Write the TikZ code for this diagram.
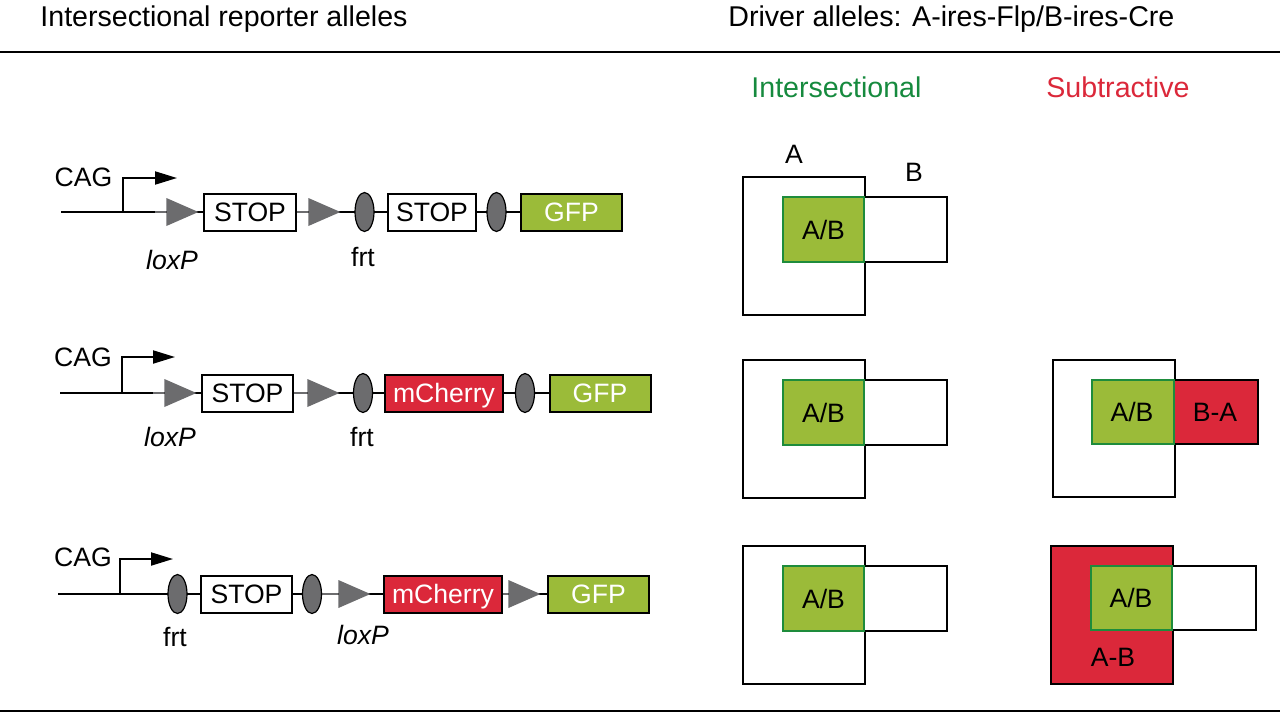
\documentclass[tikz,border=0pt]{standalone}
\usepackage{fontspec}
\setmainfont{Liberation Sans}
\usetikzlibrary{shapes.geometric,arrows.meta,backgrounds,calc}

\definecolor{gfpgreen}{RGB}{155,187,57}
\definecolor{abedge}{RGB}{30,140,60}
\definecolor{cherryred}{RGB}{219,40,58}
\definecolor{headgreen}{RGB}{22,138,62}
\definecolor{sitegray}{RGB}{108,108,110}

\tikzset{
  head/.style={font=\fontsize{14.3}{17}\selectfont, anchor=base west, inner sep=0pt},
  lbl/.style={font=\fontsize{13.3}{15}\selectfont, inner sep=0pt},
  gene/.style={draw, line width=1pt, minimum height=18.5pt, inner sep=0pt,
    text height=9.6pt, text depth=0pt, font=\fontsize{13.3}{15}\selectfont},
  stopbox/.style={gene, fill=white},
  gfpbox/.style={gene, fill=gfpgreen, text=white, minimum width=50.5pt},
  cherrybox/.style={gene, fill=cherryred, text=white, minimum width=59pt},
  loxsite/.style={isosceles triangle, isosceles triangle stretches, fill=sitegray,
    minimum width=14pt, minimum height=16pt, inner sep=0pt, anchor=west},
  frtsite/.style={ellipse, draw, fill=sitegray, line width=0.6pt,
    minimum width=9.5pt, minimum height=19.5pt, inner sep=0pt},
  backbone/.style={line width=0.75pt},
  siteline/.style={line width=0.75pt, sitegray},
  promoter/.style={line width=1pt, -{Triangle[length=11pt,width=6.5pt]}},
  venn/.style={draw, fill=white, line width=0.9pt},
  overlap/.style={draw=abedge, fill=gfpgreen, line width=0.9pt},
  vlbl/.style={lbl, text height=9.6pt, text depth=0pt},
}

\begin{document}
\begin{tikzpicture}[x=0.5pt, y=-0.5pt]
  \useasboundingbox (0,0) rectangle (1280,713);

  % headings and rules
  \node[head] (hrep) at (40,26) {Intersectional reporter alleles};
  \node[head] (hdrv) at (728,26) {Driver alleles: A-ires-Flp/B-ires-Cre};
  \draw[line width=1.2pt] (0,52) -- (1280,52);
  \draw[line width=1pt] (0,711) -- (1280,711);
  \node[head, text=headgreen] (hint) at (751,97) {Intersectional};
  \node[head, text=cherryred] (hsub) at (1046,97) {Subtractive};

  % allele 1: loxP-STOP-loxP frt-STOP-frt GFP
  \node[lbl] (cag1) at (83.5,177) {CAG};
  \coordinate (start1) at (61,212);
  \coordinate (pre1) at (155,212);
  \coordinate (prom1) at (123,212);
  \coordinate (tss1) at (177,178);
  \node[loxsite] (lox11) at (166,212) {};
  \node[stopbox, minimum width=46pt] (stop11) at (250,212) {STOP};
  \node[loxsite] (lox12) at (308,212) {};
  \node[frtsite] (frt11) at (364.5,212) {};
  \node[stopbox, minimum width=44pt] (stop12) at (432,212) {STOP};
  \node[frtsite] (frt12) at (496.5,212) {};
  \node[gfpbox] (gfp1) at (571.5,212) {GFP};
  \node[lbl, font=\fontsize{13.3}{15}\selectfont\itshape] (loxl1) at (172,260) {loxP};
  \node[lbl] (frtl1) at (363,257) {frt};
  \draw[promoter] (prom1) |- (tss1);
  \begin{scope}[on background layer]
    \draw[backbone] (start1) -- (gfp1.west);
    \draw[siteline] (pre1) -- (lox11.west);
    \draw[siteline] (stop11.east) -- (lox12.west);
  \end{scope}

  % allele 2: loxP-STOP-loxP frt-mCherry-frt GFP
  \node[lbl] (cag2) at (83,357) {CAG};
  \coordinate (start2) at (60,393);
  \coordinate (pre2) at (153,393);
  \coordinate (prom2) at (122,393);
  \coordinate (tss2) at (175,357);
  \node[loxsite] (lox21) at (164,393) {};
  \node[stopbox, minimum width=45.5pt] (stop21) at (247.5,393) {STOP};
  \node[loxsite] (lox22) at (307,393) {};
  \node[frtsite] (frt21) at (363,393) {};
  \node[cherrybox] (cherry2) at (444,393) {mCherry};
  \node[frtsite] (frt22) at (525,393) {};
  \node[gfpbox] (gfp2) at (600,393) {GFP};
  \node[lbl, font=\fontsize{13.3}{15}\selectfont\itshape] (loxl2) at (170,437) {loxP};
  \node[lbl] (frtl2) at (362,437) {frt};
  \draw[promoter] (prom2) |- (tss2);
  \begin{scope}[on background layer]
    \draw[backbone] (start2) -- (gfp2.west);
    \draw[siteline] (pre2) -- (lox21.west);
    \draw[siteline] (stop21.east) -- (lox22.west);
  \end{scope}

  % allele 3: frt-STOP-frt loxP-mCherry-loxP GFP
  \node[lbl] (cag3) at (83,557) {CAG};
  \coordinate (start3) at (58,594);
  \coordinate (prom3) at (120,594);
  \coordinate (tss3) at (173,559);
  \node[frtsite] (frt31) at (177.5,594) {};
  \node[stopbox, minimum width=45.5pt] (stop31) at (246.5,594) {STOP};
  \node[frtsite] (frt32) at (312,594) {};
  \node[loxsite] (lox31) at (338,594) {};
  \node[cherrybox] (cherry3) at (443,594) {mCherry};
  \node[loxsite] (lox32) at (508,594) {};
  \node[gfpbox] (gfp3) at (598.5,594) {GFP};
  \node[lbl] (frtl3) at (175,637) {frt};
  \node[lbl, font=\fontsize{13.3}{15}\selectfont\itshape] (loxl3) at (363,635) {loxP};
  \draw[promoter] (prom3) |- (tss3);
  \begin{scope}[on background layer]
    \draw[backbone] (start3) -- (gfp3.west);
    \draw[siteline] (frt32.east) -- (lox31.west);
    \draw[siteline] (cherry3.east) -- (lox32.west);
  \end{scope}

  % intersectional: A and B overlap
  \foreach \t [count=\i] in {177,360,546} {
    \draw[venn] (743,\t) rectangle (865,\t+138);
    \draw[venn] (783,\t+20) rectangle (947,\t+85);
    \draw[overlap] (783,\t+20) rectangle (864,\t+85);
    \node[vlbl] (ab\i) at (823.5,\t+52.5) {A/B};
  }
  \node[lbl] (la) at (794,154) {A};
  \node[lbl] (lb) at (914,172) {B};

  % subtractive, row 2: B-A
  \draw[venn] (1053,360) rectangle (1175,497);
  \draw[venn, fill=cherryred] (1174,380) rectangle (1258,444);
  \draw[overlap] (1092,380) rectangle (1174,444);
  \node[vlbl] (sab2) at (1132,412) {A/B};
  \node[vlbl] (sba) at (1215,412) {B-A};

  % subtractive, row 3: A-B
  \draw[venn, fill=cherryred] (1051,546) rectangle (1173,684);
  \draw[venn] (1091,566) rectangle (1256,630);
  \draw[overlap] (1091,566) rectangle (1172,630);
  \node[vlbl] (sab3) at (1131,598) {A/B};
  \node[vlbl] (sam) at (1113,657) {A-B};
\end{tikzpicture}
\end{document}
